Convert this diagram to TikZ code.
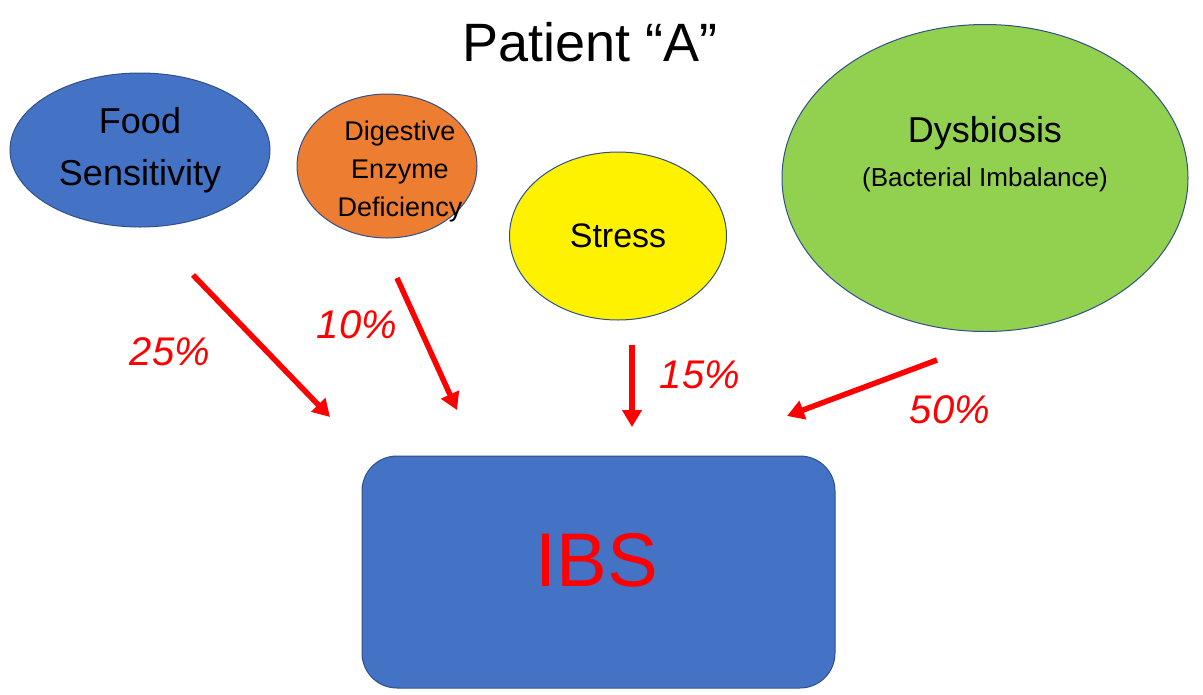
\documentclass[tikz,border=0pt]{standalone}
\usepackage{fontspec}
\setmainfont{Liberation Sans}
\usetikzlibrary{shapes.geometric,arrows.meta}
\definecolor{fblue}{HTML}{4472C4}
\definecolor{forange}{HTML}{ED7D31}
\definecolor{fgreen}{HTML}{92D050}
\definecolor{fred}{HTML}{FF0000}
\newcommand{\fs}[2]{\fontsize{#1}{#2}\selectfont}
\begin{document}
\begin{tikzpicture}[x=1pt,y=-1pt,
  blob/.style={ellipse,draw=fblue!70!black,line width=1pt,inner sep=0pt,align=center},
  arr/.style={draw=fred,line width=5.5pt,-{Triangle[length=17pt,width=19pt]}},
  pct/.style={text=fred,font=\fs{40}{46}\itshape}]
\useasboundingbox (0,0) rectangle (1203,694);
\node[font=\fs{54}{60}] (title) at (590,42) {Patient “A”};
\node[blob,fill=fblue,minimum width=260pt,minimum height=154pt,font=\fs{36}{52}] (food) at (140,150) {Food\\Sensitivity};
\node[blob,fill=forange,minimum width=180pt,minimum height=144pt,font=\fs{27}{38}] (dig) at (387,166) {};
\node[align=center,font=\fs{27}{38}] (digt) at (400,172) {Digestive\\Enzyme\\Deficiency};
\node[blob,fill=yellow,minimum width=217pt,minimum height=168pt,font=\fs{34}{40}] (stress) at (618,236) {Stress};
\node[blob,fill=fgreen,minimum width=406pt,minimum height=307pt] (dys) at (985,178) {};
\node[font=\fs{36}{40}] (dyst) at (985,133) {Dysbiosis};
\node[font=\fs{26}{30}] (dyss) at (985,180) {(Bacterial Imbalance)};
\node[draw=fblue!70!black,line width=1pt,fill=fblue,rounded corners=35pt,minimum width=473pt,minimum height=232pt] (ibs) at (598.5,572) {};
\node[text=fred,font=\fs{76}{80}] (ibst) at (597,560) {IBS};
\coordinate (a1s) at (193,275); \coordinate (a1e) at (330,417);
\coordinate (a2s) at (397,278); \coordinate (a2e) at (457,410);
\coordinate (a3s) at (632,345); \coordinate (a3e) at (632,427);
\coordinate (a4s) at (937,360); \coordinate (a4e) at (787,416);
\draw[arr] (a1s) -- (a1e);
\draw[arr] (a2s) -- (a2e);
\draw[arr] (a3s) -- (a3e);
\draw[arr] (a4s) -- (a4e);
\node[pct] (p1) at (170,352) {25\%};
\node[pct] (p2) at (357,325) {10\%};
\node[pct] (p3) at (700,375) {15\%};
\node[pct] (p4) at (950,410) {50\%};
\end{tikzpicture}
\end{document}
